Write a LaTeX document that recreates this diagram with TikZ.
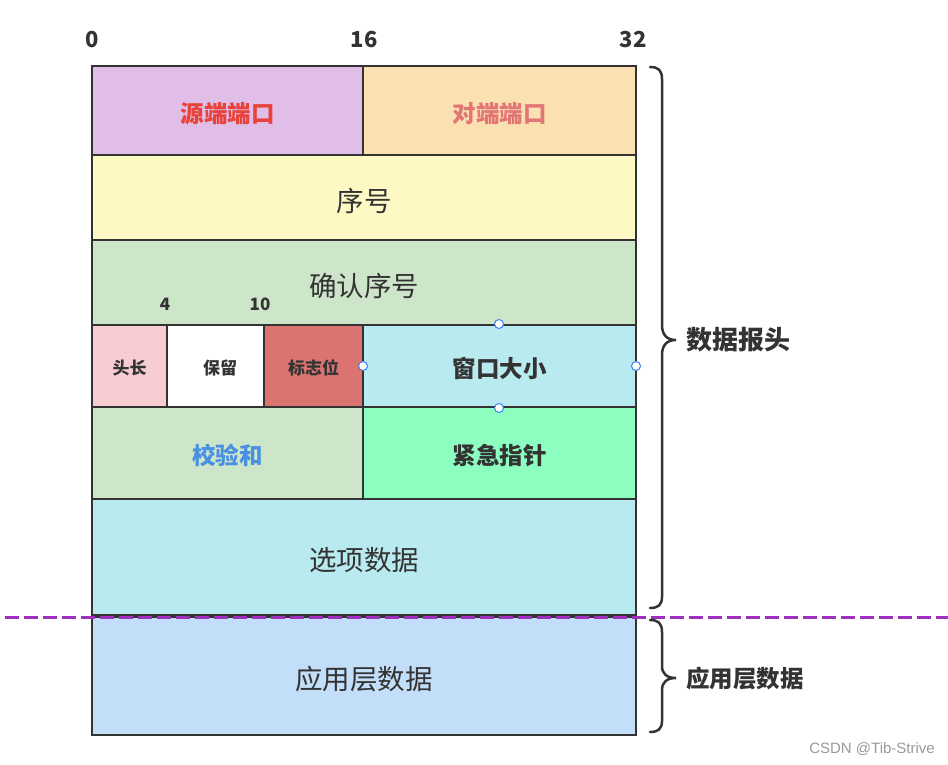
\documentclass[tikz,border=0pt]{standalone}
\usepackage{fontspec}
\setmainfont{Noto Sans CJK SC}
\newfontfamily\wmfont{Liberation Sans}
\definecolor{edge}{HTML}{333333}
\definecolor{cPurple}{HTML}{E1BEE7}
\definecolor{cPeach}{HTML}{FBE0B1}
\definecolor{cYellow}{HTML}{FEF8C4}
\definecolor{cGreen}{HTML}{CDE6CA}
\definecolor{cPink}{HTML}{F8CDD2}
\definecolor{cRed}{HTML}{DB7470}
\definecolor{cCyan}{HTML}{B8EAF0}
\definecolor{cMint}{HTML}{8CFFC0}
\definecolor{cBlue}{HTML}{C2DEF8}
\definecolor{tRed}{HTML}{E8423A}
\definecolor{tSalmon}{HTML}{E27575}
\definecolor{tBlue}{HTML}{4A90E2}
\definecolor{dashPurple}{HTML}{A02FC0}
\definecolor{handle}{HTML}{3D7EF5}
\definecolor{wm}{HTML}{9A9A9A}
\begin{document}
\begin{tikzpicture}[x=1pt,y=-1pt,
  cell/.style={draw=edge,line width=2.4pt,rectangle,inner sep=0pt,outer sep=0pt,text=edge},
  big/.style={font=\fontsize{27.5}{32}\selectfont,text height=27.5pt,text depth=0pt},
  mid/.style={font=\fontsize{23.5}{28}\selectfont\bfseries,text height=23.5pt,text depth=0pt},
  small/.style={font=\fontsize{17}{20}\selectfont\bfseries,text height=17pt,text depth=0pt},
  num/.style={font=\fontsize{22}{26}\selectfont\bfseries,text=edge,inner sep=0pt},
  snum/.style={font=\fontsize{17}{20}\selectfont\bfseries,text=edge,inner sep=0pt},
  bracestyle/.style={draw=edge,line width=2.5pt,line cap=round},
  hdl/.style={circle,draw=handle,fill=white,line width=1pt,minimum size=9pt,inner sep=0pt},
  lbl/.style={font=\fontsize{23.5}{28}\selectfont\bfseries,text=edge,anchor=west,inner sep=0pt}
]
\useasboundingbox (0,0) rectangle (948,765);

% cells
\node[cell,fill=cPurple,minimum width=271pt,minimum height=89pt,mid,text=tRed] (src) at (227.5,110.5) {源端端口};
\node[cell,fill=cPeach,minimum width=273pt,minimum height=89pt,mid,text=tSalmon] (dst) at (499.5,110.5) {对端端口};
\node[cell,fill=cYellow,minimum width=544pt,minimum height=85pt,big] (seq) at (364,197.5) {序号};
\node[cell,fill=cGreen,minimum width=544pt,minimum height=85pt,big] (ack) at (364,282.5) {确认序号};
\node[cell,fill=cPink,minimum width=75pt,minimum height=82pt,small] (hlen) at (129.5,366) {头长};
\node[cell,fill=white,minimum width=97pt,minimum height=82pt,small] (rsv) at (215.5,366) {\hspace*{9pt}保留};
\node[cell,fill=cRed,minimum width=99pt,minimum height=82pt,small] (flag) at (313.5,366) {标志位};
\node[cell,fill=cCyan,minimum width=273pt,minimum height=82pt,mid] (win) at (499.5,366) {窗口大小};
\node[cell,fill=cGreen,minimum width=271pt,minimum height=92pt,mid,text=tBlue] (chk) at (227.5,453) {校验和};
\node[cell,fill=cMint,minimum width=273pt,minimum height=92pt,mid] (urg) at (499.5,453) {紧急指针};
\node[cell,fill=cCyan,minimum width=544pt,minimum height=116pt,big] (opt) at (364,557) {选项数据};
\node[cell,fill=cBlue,minimum width=544pt,minimum height=118pt,big] (app) at (364,676) {应用层数据};

% bit numbers
\node[num] (n0) at (92,40) {0};
\node[num] (n16) at (364,40) {16};
\node[num] (n32) at (633,40) {32};
\node[snum] (n4) at (165,304) {4};
\node[snum] (n10) at (260,304) {10};

% dashed separator
\coordinate (dl) at (5,617);
\coordinate (dr) at (948,617);
\draw[dashPurple,line width=3pt,dash pattern=on 14pt off 5pt] (dl) -- (dr);

% braces
\draw[bracestyle] (650,67) .. controls (658,67) and (662,70) .. (662,79)
  -- (662,325) .. controls (662,335) and (667,340) .. (676,340)
  .. controls (667,340) and (662,345) .. (662,355)
  -- (662,597) .. controls (662,605) and (658,608) .. (650,608);
\draw[bracestyle] (650,620) .. controls (658,620) and (662,623) .. (662,632)
  -- (662,666) .. controls (662,674) and (667,678) .. (676,678)
  .. controls (667,678) and (662,682) .. (662,690)
  -- (662,721) .. controls (662,729) and (658,732) .. (650,732);
\node[lbl,font=\fontsize{26}{30}\selectfont\bfseries] (hdr) at (686,340) {数据报头};
\node[lbl] (appl) at (686,679) {应用层数据};

% selection handles
\node[hdl] (h1) at (499,324) {};
\node[hdl] (h2) at (363,366) {};
\node[hdl] (h3) at (636,366) {};
\node[hdl] (h4) at (499,408) {};

% watermark
\node[font=\wmfont\fontsize{15}{18}\selectfont,text=wm,inner sep=0pt] (wmk) at (872,749) {CSDN @Tib-Strive};
\end{tikzpicture}
\end{document}
